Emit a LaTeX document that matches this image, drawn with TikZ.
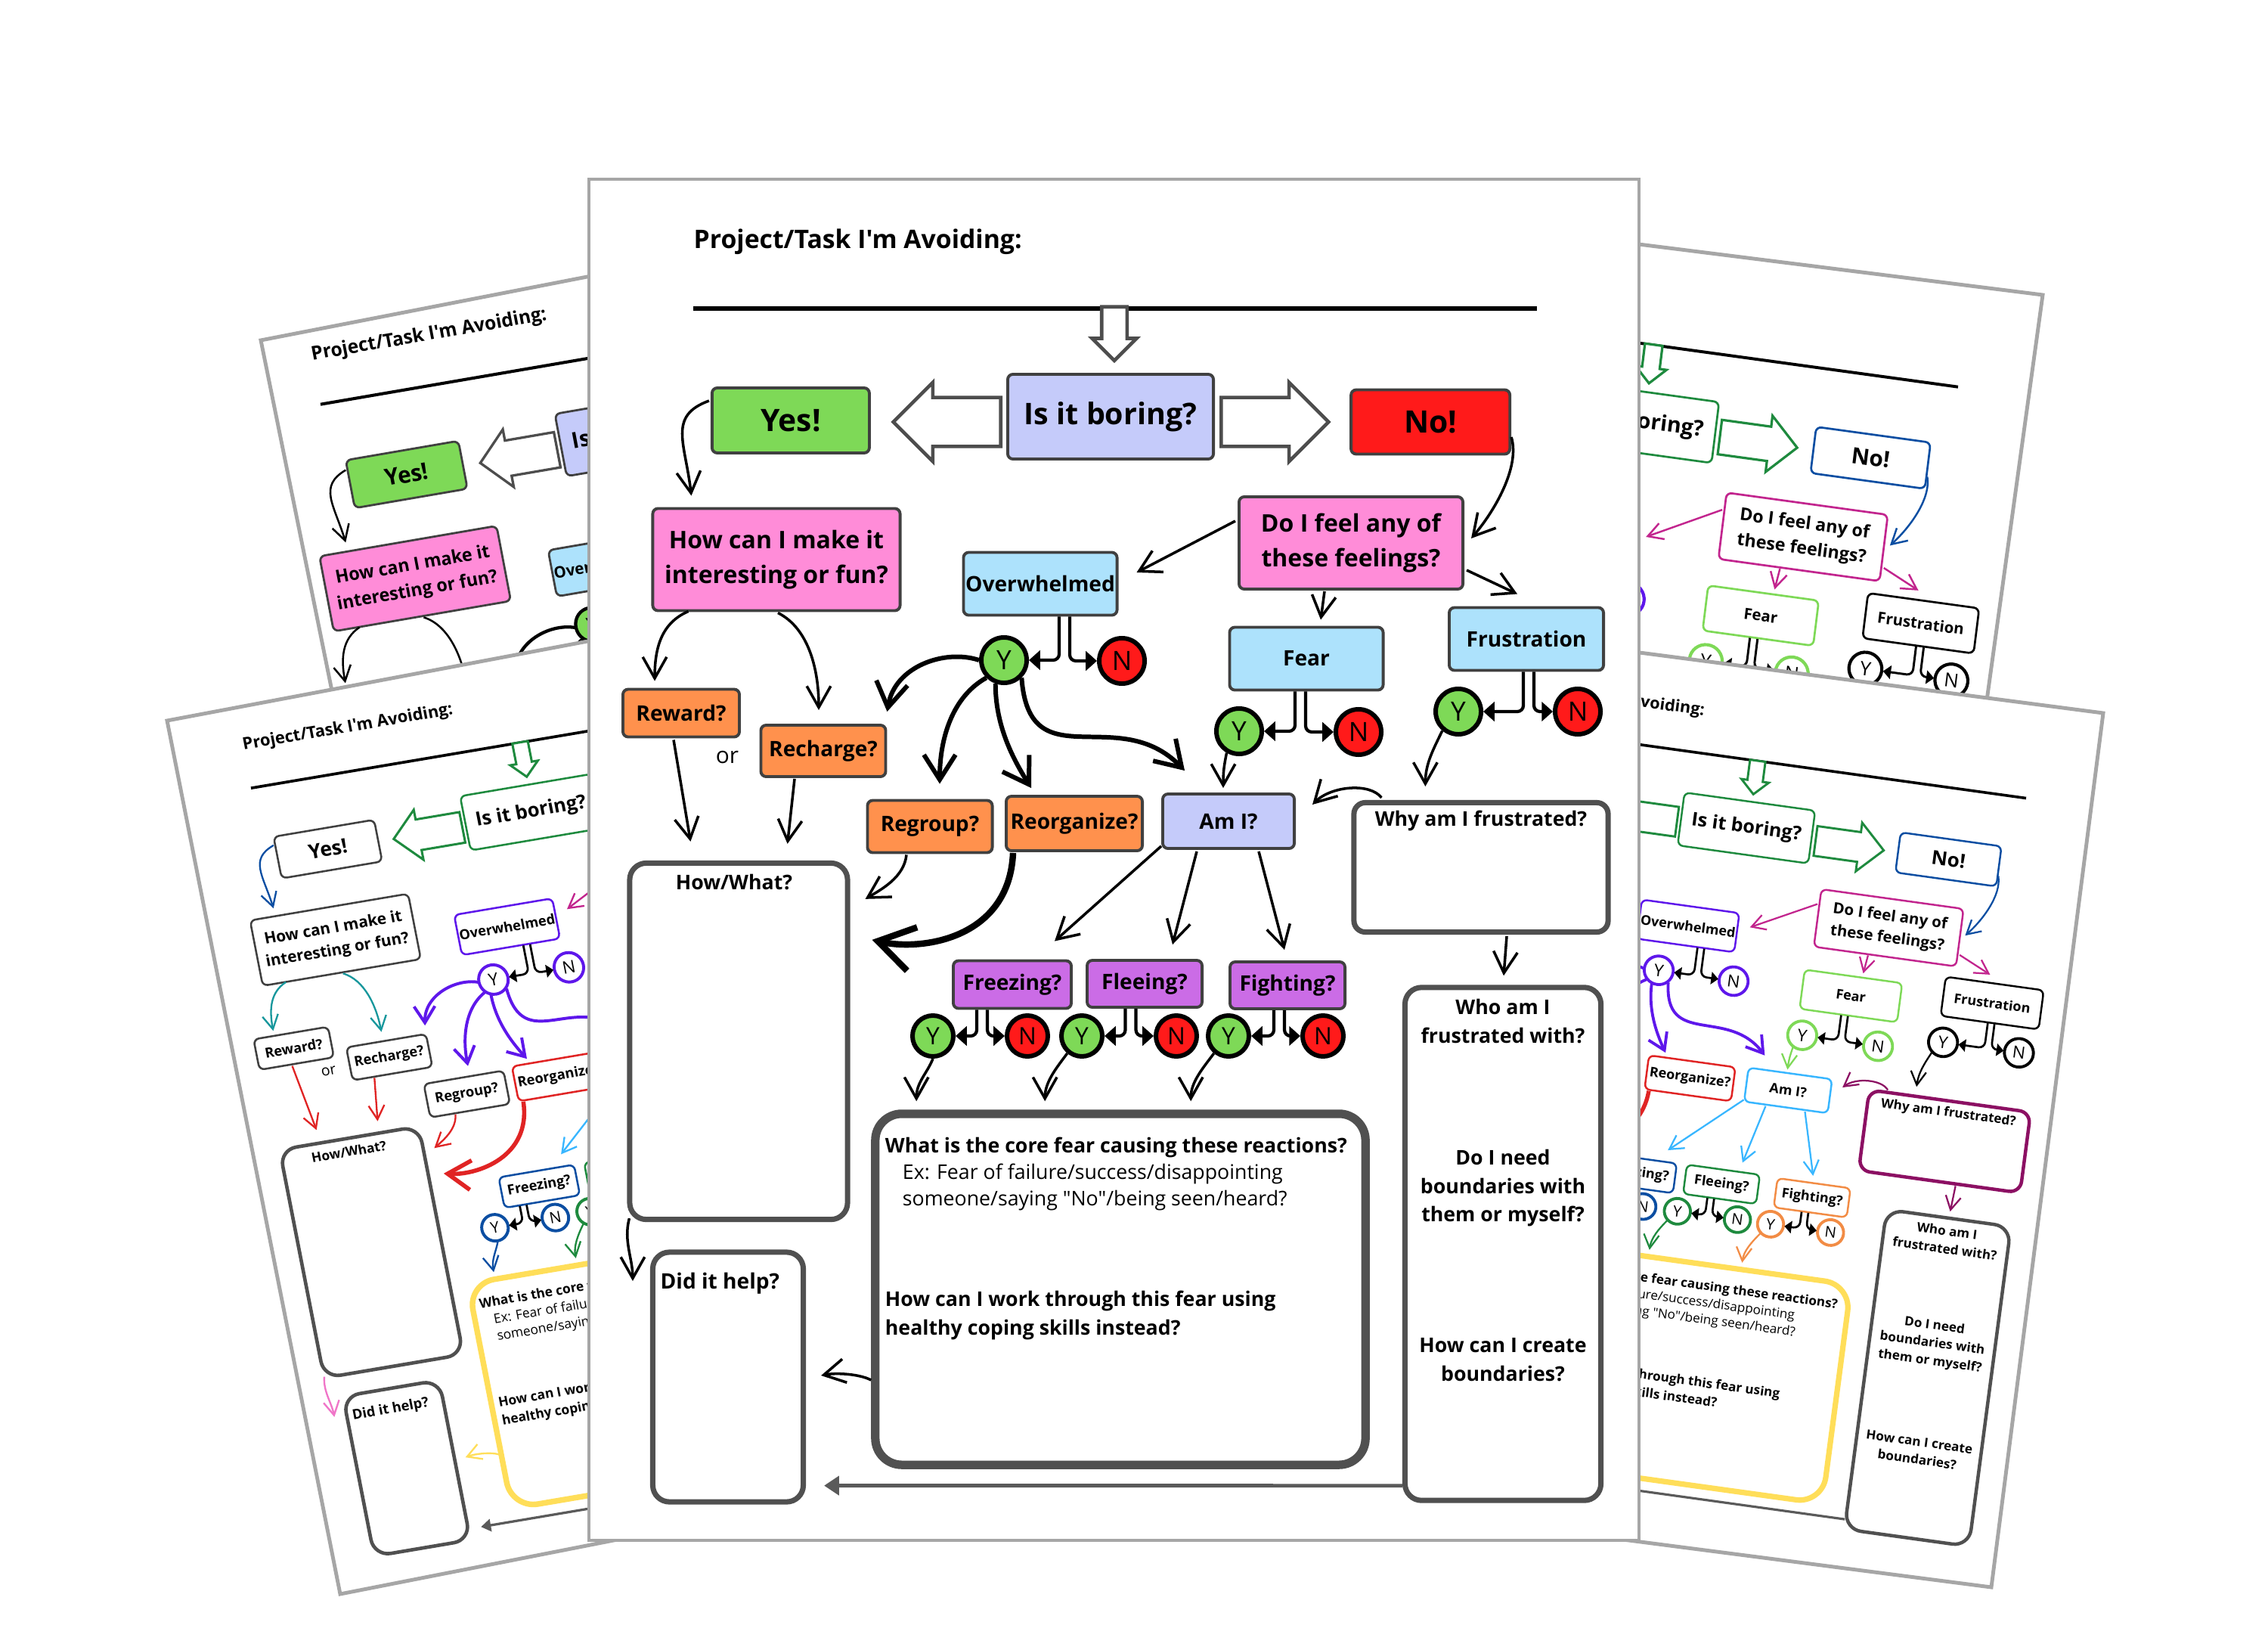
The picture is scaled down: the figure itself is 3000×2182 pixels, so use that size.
\documentclass[tikz,border=0pt]{standalone}
\usepackage{fontspec}
\setmainfont{Open Sans}[Ligatures=TeXOff]
\usetikzlibrary{positioning, arrows.meta, calc, shapes.arrows}

% --- colours of the worksheet ---
\definecolor{lav}{HTML}{C5CBFA}
\definecolor{grn}{HTML}{7ED957}
\definecolor{redbox}{HTML}{FF1A1A}
\definecolor{pnk}{HTML}{FF8CD8}
\definecolor{sky}{HTML}{ADE2FC}
\definecolor{org}{HTML}{FF914D}
\definecolor{vio}{HTML}{CB6CE6}
\definecolor{edge}{HTML}{404040}
\definecolor{bigedge}{HTML}{505050}
\definecolor{pagegray}{HTML}{A6A6A6}
\definecolor{backgray}{HTML}{5A5A5A}
\definecolor{arrgray}{HTML}{4D4D4D}
% --- colours of the outline copies ---
\definecolor{darkgrn}{HTML}{1E8A3E}
\definecolor{navy}{HTML}{0B4EA2}
\definecolor{magline}{HTML}{C2258E}
\definecolor{purp}{HTML}{5E17EB}
\definecolor{redline}{HTML}{E02424}
\definecolor{skyline}{HTML}{38B6FF}
\definecolor{orgline}{HTML}{F28C45}
\definecolor{plum}{HTML}{8C1063}
\definecolor{yel}{HTML}{FFDE59}
\definecolor{tealline}{HTML}{17979C}
\definecolor{pinkline}{HTML}{F075C8}

% line width factor (smaller on the sheets behind)
\newcommand\lwf{1}

% fonts
\newcommand\fsBoring{\bfseries\fontsize{11.2}{13}\selectfont}
\newcommand\fsYes{\bfseries\fontsize{11.6}{13}\selectfont}
\newcommand\fsQ{\bfseries\fontsize{9.1}{13}\selectfont}
\newcommand\fsSmall{\bfseries\fontsize{8}{10}\selectfont}
\newcommand\fsBox{\bfseries\fontsize{7.6}{10.7}\selectfont}

% colour scheme: filled boxes
\newcommand\filledscheme{%
  \colorlet{fBoring}{lav}\colorlet{dBoring}{edge}%
  \colorlet{fYes}{grn}\colorlet{dYes}{edge}%
  \colorlet{fNo}{redbox}\colorlet{dNo}{edge}%
  \colorlet{fPink}{pnk}\colorlet{dHow}{edge}\colorlet{dDo}{edge}%
  \colorlet{fBlue}{sky}\colorlet{dOvw}{edge}\colorlet{dFear}{edge}\colorlet{dFrus}{edge}%
  \colorlet{fOrange}{org}\colorlet{dOrange}{edge}\colorlet{dReorg}{edge}%
  \colorlet{fAm}{lav}\colorlet{dAm}{edge}%
  \colorlet{fPurple}{vio}\colorlet{dFrz}{edge}\colorlet{dFle}{edge}\colorlet{dFig}{edge}%
  \colorlet{dHW}{bigedge}\colorlet{dDid}{bigedge}\colorlet{dWhy}{bigedge}\colorlet{dWho}{bigedge}\colorlet{dCore}{bigedge}%
  \colorlet{fY}{grn}\colorlet{fN}{redbox}%
  \colorlet{cOvw}{black}\colorlet{cFear}{black}\colorlet{cFrus}{black}%
  \colorlet{cFrz}{black}\colorlet{cFle}{black}\colorlet{cFig}{black}%
  \colorlet{aYes}{black}\colorlet{aNo}{black}\colorlet{aHow}{black}\colorlet{aHW}{black}%
  \colorlet{aDo}{black}\colorlet{aOvw}{black}\colorlet{aFear}{black}\colorlet{aFrus}{black}%
  \colorlet{aWhy}{black}\colorlet{aAm}{black}\colorlet{aFrz}{black}\colorlet{aFle}{black}%
  \colorlet{aFig}{black}\colorlet{aDid}{black}\colorlet{aCore}{black}%
  \colorlet{aWho}{backgray}\colorlet{hArr}{arrgray}%
}
% colour scheme: white boxes, coloured lines
\newcommand\outlinescheme{%
  \colorlet{fBoring}{white}\colorlet{dBoring}{darkgrn}%
  \colorlet{fYes}{white}\colorlet{dYes}{edge}%
  \colorlet{fNo}{white}\colorlet{dNo}{navy}%
  \colorlet{fPink}{white}\colorlet{dHow}{edge}\colorlet{dDo}{magline}%
  \colorlet{fBlue}{white}\colorlet{dOvw}{purp}\colorlet{dFear}{grn}\colorlet{dFrus}{black}%
  \colorlet{fOrange}{white}\colorlet{dOrange}{edge}\colorlet{dReorg}{redline}%
  \colorlet{fAm}{white}\colorlet{dAm}{skyline}%
  \colorlet{fPurple}{white}\colorlet{dFrz}{navy}\colorlet{dFle}{darkgrn}\colorlet{dFig}{orgline}%
  \colorlet{dHW}{bigedge}\colorlet{dDid}{bigedge}\colorlet{dWhy}{plum}\colorlet{dWho}{bigedge}\colorlet{dCore}{yel}%
  \colorlet{fY}{white}\colorlet{fN}{white}%
  \colorlet{cOvw}{purp}\colorlet{cFear}{grn}\colorlet{cFrus}{black}%
  \colorlet{cFrz}{navy}\colorlet{cFle}{darkgrn}\colorlet{cFig}{orgline}%
  \colorlet{aYes}{navy}\colorlet{aNo}{navy}\colorlet{aHow}{tealline}\colorlet{aHW}{redline}%
  \colorlet{aDo}{magline}\colorlet{aOvw}{purp}\colorlet{aFear}{grn}\colorlet{aFrus}{black}%
  \colorlet{aWhy}{plum}\colorlet{aAm}{skyline}\colorlet{aFrz}{navy}\colorlet{aFle}{darkgrn}%
  \colorlet{aFig}{orgline}\colorlet{aDid}{pinkline}\colorlet{aCore}{yel}%
  \colorlet{aWho}{backgray}\colorlet{hArr}{darkgrn}%
}
\filledscheme

% the Y/N split under a box
\newcommand\ynhook[3]{%
  \coordinate (#2M) at ($(#2Y.east)!0.5!(#2N.west)+(#3,0)$);
  \draw[ynarrow] ($(#2M |- #1.south)+(-7,0)$) |- (#2Y.east);
  \draw[ynarrow] ($(#2M |- #1.south)+(7,0)$) |- (#2N.west);
}

% one worksheet, in the pixel frame of the front sheet
\newcommand\worksheet{%
  % --- heading ---
  \node[titletxt, anchor=base west] (title) at (917,329) {Project/Task I'm Avoiding:};
  \coordinate (lineL) at (917,408);
  \coordinate (lineR) at (2033,408);
  \draw[answerline] (lineL) -- (lineR);

  % --- first question ---
  \node[qbox={fBoring}{dBoring}, font=\fsBoring, minimum width=2.72cm, minimum height=1.12cm] (boring) at (1469,551) {Is it boring?};
  \node[qbox={fYes}{dYes}, font=\fsYes, minimum width=2.08cm, minimum height=0.86cm, left=1.79cm of boring, yshift=-0.05cm] (yes) {Yes!};
  \node[qbox={fNo}{dNo}, font=\fsYes, minimum width=2.1cm, minimum height=0.85cm, right=1.78cm of boring, yshift=-0.07cm] (no) {No!};
  \node[hollow, rotate=-90, anchor=tip, minimum height=0.71cm, text height=0.145cm, text depth=0.145cm, single arrow head extend=0.125cm] (arDown) at ($(boring.north)+(5,-13)$) {};
  \node[hollow, rotate=180, anchor=tail, minimum height=1.42cm, text height=0.3cm, text depth=0.3cm, single arrow head extend=0.2cm] (arYes) at ($(boring.west)+(-5,7)$) {};
  \node[hollow, anchor=tail, minimum height=1.42cm, text height=0.3cm, text depth=0.3cm, single arrow head extend=0.2cm] (arNo) at ($(boring.east)+(6,7)$) {};

  % --- yes branch ---
  \node[qbox={fPink}{dHow}, font=\fsQ, minimum width=3.27cm, minimum height=1.35cm] (how) at (1027,740) {How can I make it\\interesting or fun?};
  \node[qbox={fOrange}{dOrange}, minimum width=1.54cm, minimum height=0.63cm] (reward) at (901,943) {Reward?};
  \node[qbox={fOrange}{dOrange}, minimum width=1.65cm, minimum height=0.68cm] (recharge) at (1089,993) {Recharge?};
  \node[ortxt] (or) at (962,1001) {or};
  \node[bigbox=dHW, minimum width=2.88cm, minimum height=4.71cm] (howwhat) at (977,1377) {};
  \node[boxtxt] (howwhatT) at ($(howwhat.north)+(-6,29)$) {How/What?};
  \node[bigbox=dDid, minimum width=1.99cm, minimum height=3.3cm] (did) at (963,1821) {};
  \node[boxtxt, anchor=west, font=\bfseries\fontsize{8}{10}\selectfont] (didT) at ($(did.north west)+(13,45)$) {Did it help?};

  % --- no branch ---
  \node[qbox={fPink}{dDo}, font=\fsQ, minimum width=2.96cm, minimum height=1.22cm] (feel) at (1787,718) {Do I feel any of\\these feelings?};
  \node[qbox={fBlue}{dOvw}, minimum width=2.03cm, minimum height=0.83cm] (ovw) at (1376,772) {Overwhelmed};
  \node[qbox={fBlue}{dFear}, minimum width=2.03cm, minimum height=0.83cm] (fear) at (1728,871) {Fear};
  \node[qbox={fBlue}{dFrus}, minimum width=2.04cm, minimum height=0.83cm] (frus) at (2019,845) {Frustration};
  \node[yn={fY}{cOvw}] (ovwY) at (1328,873) {Y};
  \node[yn={fN}{cOvw}] (ovwN) at (1484,874) {N};
  \node[yn={fY}{cFear}] (fearY) at (1639,967) {Y};
  \node[yn={fN}{cFear}] (fearN) at (1797,968) {N};
  \node[yn={fY}{cFrus}] (frusY) at (1929,941) {Y};
  \node[yn={fN}{cFrus}] (frusN) at (2087,941) {N};

  % --- what to do next ---
  \node[qbox={fOrange}{dOrange}, minimum width=1.65cm, minimum height=0.69cm] (regroup) at (1230,1093) {Regroup?};
  \node[qbox={fOrange}{dReorg}, minimum width=1.8cm, minimum height=0.72cm] (reorg) at (1421,1089) {Reorganize?};
  \node[qbox={fAm}{dAm}, minimum width=1.74cm, minimum height=0.72cm] (ami) at (1625,1086) {Am I?};
  \node[bigbox=dWhy, rounded corners=0.15cm, minimum width=3.36cm, minimum height=1.71cm] (why) at (1959,1147) {};
  \node[boxtxt] (whyT) at ($(why.north)+(0,28)$) {Why am I frustrated?};
  \node[bigbox=dWho, minimum width=2.59cm, minimum height=6.78cm] (who) at (1988,1645) {};
  \node[boxtxt] (whoT1) at ($(who.north)+(0,48)$) {Who am I\\frustrated with?};
  \node[boxtxt] (whoT2) at ($(who.north)+(0,269)$) {Do I need\\boundaries with\\them or myself?};
  \node[boxtxt] (whoT3) at ($(who.north)+(0,496)$) {How can I create\\boundaries?};
  \node[qbox={fPurple}{dFrz}, minimum width=1.56cm, minimum height=0.63cm] (freez) at (1339,1302) {Freezing?};
  \node[qbox={fPurple}{dFle}, minimum width=1.52cm, minimum height=0.62cm] (flee) at (1514,1301) {Fleeing?};
  \node[qbox={fPurple}{dFig}, minimum width=1.52cm, minimum height=0.62cm] (fight) at (1703,1303) {Fighting?};
  \node[yns={fY}{cFrz}] (frzY) at (1234,1370) {Y};
  \node[yns={fN}{cFrz}] (frzN) at (1359,1370) {N};
  \node[yns={fY}{cFle}] (fleY) at (1431,1370) {Y};
  \node[yns={fN}{cFle}] (fleN) at (1556,1370) {N};
  \node[yns={fY}{cFig}] (figY) at (1625,1370) {Y};
  \node[yns={fN}{cFig}] (figN) at (1750,1370) {N};
  \node[bigbox=dCore, line width=\lwf*3.2pt, rounded corners=0.35cm, minimum width=6.48cm, minimum height=4.64cm] (core) at (1482,1705) {};
  \node[boxtxt, anchor=north west, align=left, font=\bfseries\fontsize{7.6}{10}\selectfont] (coreT1) at ($(core.north west)+(18,36)$)
    {What is the core fear causing these reactions?\\\hspace*{0.23cm}\mdseries Ex: Fear of failure/success/disappointing\\\hspace*{0.23cm}\mdseries someone/saying "No"/being seen/heard?};
  \node[boxtxt, anchor=north west, align=left] (coreT2) at ($(core.north west)+(18,239)$)
    {How can I work through this fear using\\healthy coping skills instead?};

  % --- connectors ---
  \draw[arr, draw=aYes] ($(yes.west)+(-2,-26)$) .. controls +(-55,20) and +(-8,-70) .. ($(how.north west)+(53,-15)$);
  \draw[arr, draw=aHow] ($(how.south west)+(49,-1)$) .. controls +(-35,15) and +(0,-45) .. ($(reward.north west)+(44,-9)$);
  \draw[arr, draw=aHow] ($(how.south)+(2,1)$) .. controls +(40,20) and +(0,-55) .. ($(recharge.north)+(-6,-18)$);
  \draw[arr, draw=aHW] ($(reward.south)+(-10,2)$) -- ($(howwhat.north west)+(84,-25)$);
  \draw[arr, draw=aHW] ($(recharge.south)+(-38,1)$) -- ($(howwhat.north east)+(-83,-22)$);
  \draw[arr, draw=aNo] ($(no.east)+(0,20)$) .. controls +(12,40) and +(30,-35) .. ($(feel.east)+(9,-6)$);
  \draw[arr, draw=aDo] ($(feel.west)+(-3,-29)$) -- ($(ovw.east)+(24,-15)$);
  \draw[arr, draw=aDo] ($(feel.south)+(-35,1)$) -- ($(fear.north)+(19,-8)$);
  \draw[arr, draw=aDo] ($(feel.east)+(3,36)$) -- ($(frus.north)+(-12,-16)$);
  \ynhook{ovw}{ovw}{2}
  \ynhook{fear}{fear}{2}
  \ynhook{frus}{frus}{14}
  \ynhook{freez}{frz}{2.5}
  \ynhook{flee}{fle}{2}
  \ynhook{fight}{fig}{4.5}
  \draw[fan, draw=aOvw] (ovwY.west) .. controls +(-45,-15) and +(10,-60) .. ($(recharge.north east)+(0,-16)$);
  \draw[fan, draw=aOvw] (ovwY.south west) .. controls +(-45,25) and +(0,-60) .. ($(regroup.north)+(13,-20)$);
  \draw[fan, draw=aOvw] (ovwY.250) .. controls +(0,55) and +(-25,-40) .. ($(reorg.north)+(-57,-9)$);
  \draw[fan, draw=aOvw] (ovwY.south east) .. controls +(10,137) and +(-89,-91) .. ($(ami.north west)+(31,-29)$);
  \draw[arr, draw=aHW] ($(regroup.south)+(-31,1)$) .. controls +(-3,30) and +(20,-12) .. ($(howwhat.north east)+(20,51)$);
  \draw[heavy, draw=aHW] ($(reorg.south)+(-81,1)$) .. controls +(-5,114) and +(65,15) .. ($(howwhat.north east)+(29,105)$);
  \draw[arr, draw=aFear] (fearY.240) .. controls +(-4,20) and +(0,-20) .. ($(ami.north)+(-7,-6)$);
  \draw[arr, draw=aFrus] (frusY.230) .. controls +(-12,25) and +(0,-30) .. ($(why.north west)+(98,-18)$);
  \draw[arr, draw=aWhy] ($(why.north west)+(40,-3)$) .. controls +(-15,-20) and +(25,-25) .. ($(ami.east)+(22,-22)$);
  \draw[arr, draw=aAm] ($(ami.south west)+(0,-5)$) -- ($(freez.north)+(56,-24)$);
  \draw[arr, draw=aAm] ($(ami.south)+(-42,2)$) -- ($(flee.north)+(37,-19)$);
  \draw[arr, draw=aAm] ($(ami.south)+(40,2)$) -- ($(fight.north)+(-4,-14)$);
  \draw[arr, draw=aWhy] ($(why.south)+(34,2)$) -- ($(who.north)+(1,-12)$);
  \draw[arr, draw=aFrz] (frzY.south) .. controls +(-8,20) and +(0,-25) .. ($(core.north west)+(60,-11)$);
  \draw[arr, draw=aFle] (fleY.230) .. controls +(-15,20) and +(0,-25) .. ($(core.north west)+(230,-11)$);
  \draw[arr, draw=aFig] (figY.230) .. controls +(-15,20) and +(0,-25) .. ($(core.north west)+(423,-11)$);
  \draw[arr, draw=aDid] ($(howwhat.south west)+(3,-5)$) .. controls +(-8,30) and +(0,-30) .. ($(did.west)+(-23,-127)$);
  \draw[arr, draw=aCore] ($(core.west)+(0,120)$) .. controls +(-15,-8) and +(20,-4) .. ($(did.east)+(20,-2)$);
  \draw[backarrow, draw=aWho] ($(who.south west)+(0,-23)$) -- ($(did.south east)+(24,-25)$);
}

\begin{document}
\begin{tikzpicture}[
    x=0.01cm, y=-0.01cm,
    % boxes
    qbox/.style 2 args={rectangle, rounded corners=0.07cm, fill=#1, draw=#2, line width=\lwf*1.1pt, align=center, inner sep=0pt, font=\fsSmall},
    bigbox/.style={rectangle, rounded corners=0.22cm, draw=#1, fill=white, line width=\lwf*2pt, inner sep=0pt},
    yn/.style 2 args={circle, fill=#1, draw=#2, line width=\lwf*1.7pt, inner sep=0pt, minimum size=0.6cm, font=\fontsize{10}{12}\selectfont},
    yns/.style 2 args={yn={#1}{#2}, minimum size=0.54cm, font=\fontsize{9}{11}\selectfont},
    hollow/.style={single arrow, draw=hArr, fill=white, line width=\lwf*1.3pt, inner sep=0pt},
    % texts
    titletxt/.style={font=\bfseries\fontsize{9.6}{11}\selectfont, inner sep=0pt},
    boxtxt/.style={font=\fsBox, align=center, inner sep=0pt},
    ortxt/.style={font=\fontsize{8.5}{10}\selectfont, inner sep=0pt},
    answerline/.style={line width=\lwf*1.6pt},
    % arrows
    arr/.style={line width=\lwf*1pt, -{Straight Barb[length=0pt 8, width=0pt 9]}},
    fan/.style={line width=\lwf*1.7pt, -{Straight Barb[length=0pt 5.5, width=0pt 7]}},
    heavy/.style={line width=\lwf*2.4pt, -{Straight Barb[length=0pt 5.5, width=0pt 7]}},
    ynarrow/.style={draw=black, line width=\lwf*1.2pt, rounded corners=0.08cm, -{Triangle[length=0pt 3.5, width=0pt 6]}},
    backarrow/.style={line width=\lwf*1.4pt, -{Triangle[length=0pt 4, width=0pt 5]}},
    % sheets
    sheetedge/.style={draw=pagegray, line width=1.4pt}
  ]
  \useasboundingbox (0,0) rectangle (3000,2182);

  % --- sheet behind, top left ---
  \begin{scope}
    \filledscheme\renewcommand\lwf{0.72}
    \path[fill=white] (345,450) -- (900,342) -- (900,1100) -- (487,1150) -- cycle;
    \begin{scope}
      \clip (345,450) -- (900,342) -- (900,1100) -- (487,1150) -- cycle;
      \begin{scope}[cm={0.716,0.123,-0.14,0.735,(-289.8,347.6)}, transform shape]
        \worksheet
      \end{scope}
    \end{scope}
    \draw[sheetedge] (345,450) -- (900,342) -- (900,1100) -- (487,1150) -- cycle;
  \end{scope}

  % --- sheet behind, bottom left ---
  \begin{scope}
    \outlinescheme\renewcommand\lwf{0.66}
    \path[fill=white] (221,953) -- (1000,806) -- (1000,2000) -- (450,2108) -- cycle;
    \begin{scope}
      \clip (221,953) -- (1000,806) -- (1000,2000) -- (450,2108) -- cycle;
      \begin{scope}[cm={0.639,0.108,-0.125,0.64,(-305.05,880.1)}, transform shape]
        \worksheet
      \end{scope}
    \end{scope}
    \draw[sheetedge] (221,953) -- (1000,806) -- (1000,2000) -- (450,2108) -- cycle;
  \end{scope}

  % --- sheet behind, top right ---
  \begin{scope}
    \outlinescheme\renewcommand\lwf{0.7}
    \path[fill=white] (2000,302) -- (2702,390) -- (2604,1100) -- (2000,1100) -- cycle;
    \begin{scope}
      \clip (2000,302) -- (2702,390) -- (2604,1100) -- (2000,1100) -- cycle;
      \begin{scope}[cm={0.72,-0.099,0.089,0.7185,(1162.3,17.2)}, transform shape]
        \worksheet
      \end{scope}
    \end{scope}
    \draw[sheetedge] (2000,302) -- (2702,390) -- (2604,1100) -- (2000,1100) -- cycle;
  \end{scope}

  % --- sheet behind, bottom right ---
  \begin{scope}
    \outlinescheme\renewcommand\lwf{0.64}
    \path[fill=white] (2000,841) -- (2782,943) -- (2634,2099) -- (2000,2017) -- cycle;
    \begin{scope}
      \clip (2000,841) -- (2782,943) -- (2634,2099) -- (2000,2017) -- cycle;
      \begin{scope}[cm={0.635,-0.088,0.082,0.623,(1422.4,622.4)}, transform shape]
        \worksheet
      \end{scope}
    \end{scope}
    \draw[sheetedge] (2000,841) -- (2782,943) -- (2634,2099) -- (2000,2017) -- cycle;
  \end{scope}

  % --- front sheet ---
  \path[fill=white] (779,237) rectangle (2168,2037);
  \worksheet
  \draw[sheetedge] (779,237) rectangle (2168,2037);
\end{tikzpicture}
\end{document}
